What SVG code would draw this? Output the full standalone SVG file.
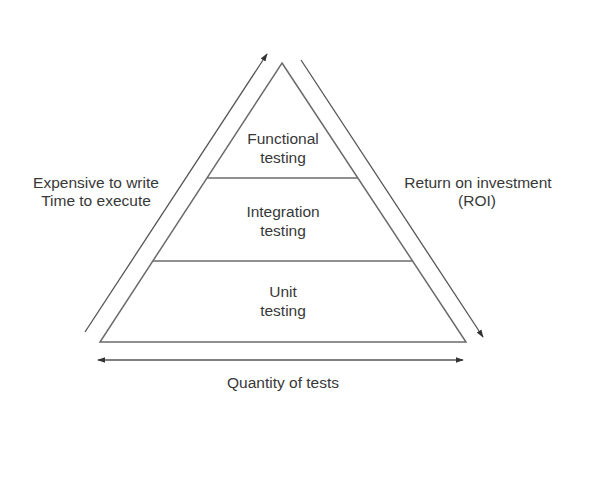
<svg xmlns="http://www.w3.org/2000/svg" width="597" height="486" viewBox="0 0 597 486">
<style>
.ln{stroke:#6b6b6b;stroke-width:1.5;fill:none}
.ar{stroke:#555;stroke-width:1.3;fill:none}
text{font-family:"Liberation Sans",Arial,sans-serif;font-size:15.5px;fill:#383838;text-anchor:middle}
</style>
<defs>
<marker id="ah" viewBox="0 0 10 10" refX="9" refY="5" markerWidth="8" markerHeight="8" orient="auto-start-reverse" markerUnits="userSpaceOnUse">
<path d="M0,1.5 L10,5 L0,8.5 Z" fill="#333"/>
</marker>
</defs>
<rect width="597" height="486" fill="#fff"/>
<g id="pyramid">
<path class="ln" d="M282,63 L466,342 L100,342 Z"/>
</g>
<g id="functional">
<text x="283" y="144">Functional</text>
<text x="283" y="163">testing</text>
</g>
<g id="integration">
<line class="ln" x1="207" y1="178" x2="358" y2="178"/>
<text x="283" y="217">Integration</text>
<text x="283" y="236">testing</text>
</g>
<g id="unit">
<line class="ln" x1="153" y1="261" x2="413" y2="261"/>
<text x="283" y="297">Unit</text>
<text x="283" y="316">testing</text>
</g>
<g id="left-label">
<text x="96" y="188">Expensive to write</text>
<text x="96" y="206">Time to execute</text>
</g>
<g id="right-label">
<text x="478" y="188">Return on investment</text>
<text x="477" y="206">(ROI)</text>
</g>
<g id="bottom-label">
<text x="283" y="388">Quantity of tests</text>
</g>
<g id="connectors">
<line class="ar" x1="85" y1="332" x2="267" y2="54" marker-end="url(#ah)"/>
<line class="ar" x1="301" y1="60" x2="483" y2="337" marker-end="url(#ah)"/>
<line class="ar" x1="98" y1="360" x2="463" y2="360" marker-start="url(#ah)" marker-end="url(#ah)"/>
</g>
</svg>
